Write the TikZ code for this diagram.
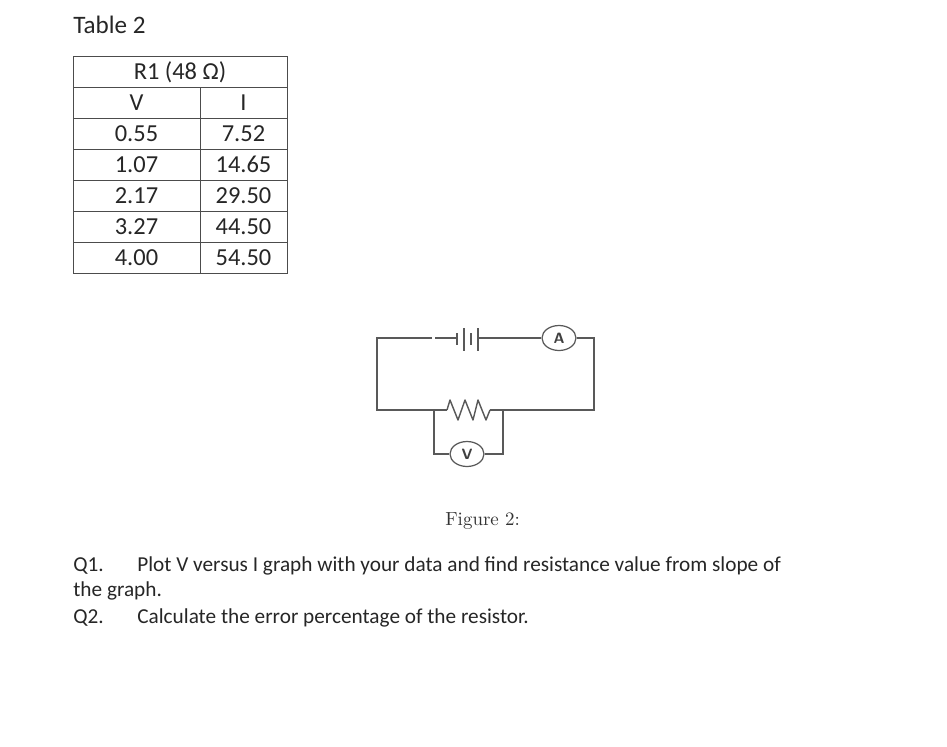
\documentclass[tikz,border=0pt]{standalone}
\usepackage{fontspec}
\setmainfont{Carlito}
\newfontfamily\capfont{Latin Modern Roman}
\tikzset{
  cell/.style={draw=black!70,line width=0.5pt,minimum height=0.62cm,inner sep=0pt,text height=8.6pt,text depth=0pt,font=\fontsize{13.9}{16}\selectfont,text=black!85},
  line text/.style={anchor=base west,inner sep=0pt,font=\fontsize{12.1}{14}\selectfont,text=black!85},
  wire/.style={black!65,line width=0.8pt},
  meter/.style={draw=black!65,line width=0.7pt,ellipse,minimum width=0.68cm,minimum height=0.5cm,inner sep=0pt,fill=white,font=\sffamily\bfseries\fontsize{8.5}{9}\selectfont,text=black!75},
}
\usetikzlibrary{shapes.geometric}
\begin{document}
\begin{tikzpicture}[x=0.02cm,y=-0.02cm]
  \useasboundingbox (0,0) rectangle (947,747);

  % Title
  \node[line text,font=\fontsize{14.3}{16}\selectfont] (title) at (73,33) {Table 2};

  % Table
  \node[cell,minimum width=4.28cm] (head) at (180,71.5) {R1 (48 Ω)};
  \node[cell,minimum width=2.54cm] (colV) at (136.5,102.5) {V};
  \node[cell,minimum width=1.74cm] (colI) at (243.5,102.5) {I};
  \foreach \y/\v/\i [count=\n] in {134/0.55/7.52, 165/1.07/14.65, 195.5/2.17/29.50, 226.5/3.27/44.50, 257.5/4.00/54.50}{
    \node[cell,minimum width=2.54cm] (v\n) at (136.5,\y) {\v};
    \node[cell,minimum width=1.74cm] (i\n) at (243.5,\y) {\i};
  }

  % Circuit
  \coordinate (tl) at (377,338);
  \coordinate (tr) at (594,338);
  \coordinate (bl) at (377,410);
  \coordinate (br) at (594,410);
  \coordinate (rl) at (434,410);
  \coordinate (rr) at (503,410);
  \coordinate (gapa) at (432,338);
  \coordinate (gapb) at (435,338);
  \coordinate (batl) at (457,338);
  \coordinate (batr) at (478,338);
  \coordinate (resl) at (447,410);
  \coordinate (resr) at (490,410);
  \node[meter] (ammeter) at (559,338) {A};
  \node[meter] (voltmeter) at (467,454) {V};

  \draw[wire] (gapa) -- (tl) -- (bl) -- (rl) -- (resl);
  \draw[wire] (gapb) -- (batl);
  \draw[wire] (batr) -- (ammeter);
  \draw[wire] (ammeter) -- (tr) -- (br) -- (rr) -- (resr);
  \draw[wire] (rl) |- (voltmeter);
  \draw[wire] (rr) |- (voltmeter);

  % Battery
  \draw[wire] (457,333) -- (457,345);
  \draw[wire] (464,328) -- (464,351);
  \draw[wire] (471,333) -- (471,345);
  \draw[wire] (478,328) -- (478,351);

  % Resistor
  \draw[wire,line join=round] (resl) -- (450,400) -- (458,420) -- (465,400) -- (473,420) -- (478,400) -- (486,420) -- (resr);

  % Caption
  \node[anchor=base west,inner sep=0pt,font=\capfont\fontsize{10.8}{12}\selectfont,text=black!80] (caption) at (445,525) {Figure 2:};

  % Questions
  \node[line text] (qa) at (73,571.5) {Q1.};
  \node[line text] (qatext) at (137,571.5) {Plot V versus I graph with your data and find resistance value from slope of};
  \node[line text] (qb) at (73,596.5) {the graph.};
  \node[line text] (qc) at (73,623.5) {Q2.};
  \node[line text] (qctext) at (137,623.5) {Calculate the error percentage of the resistor.};
\end{tikzpicture}
\end{document}
